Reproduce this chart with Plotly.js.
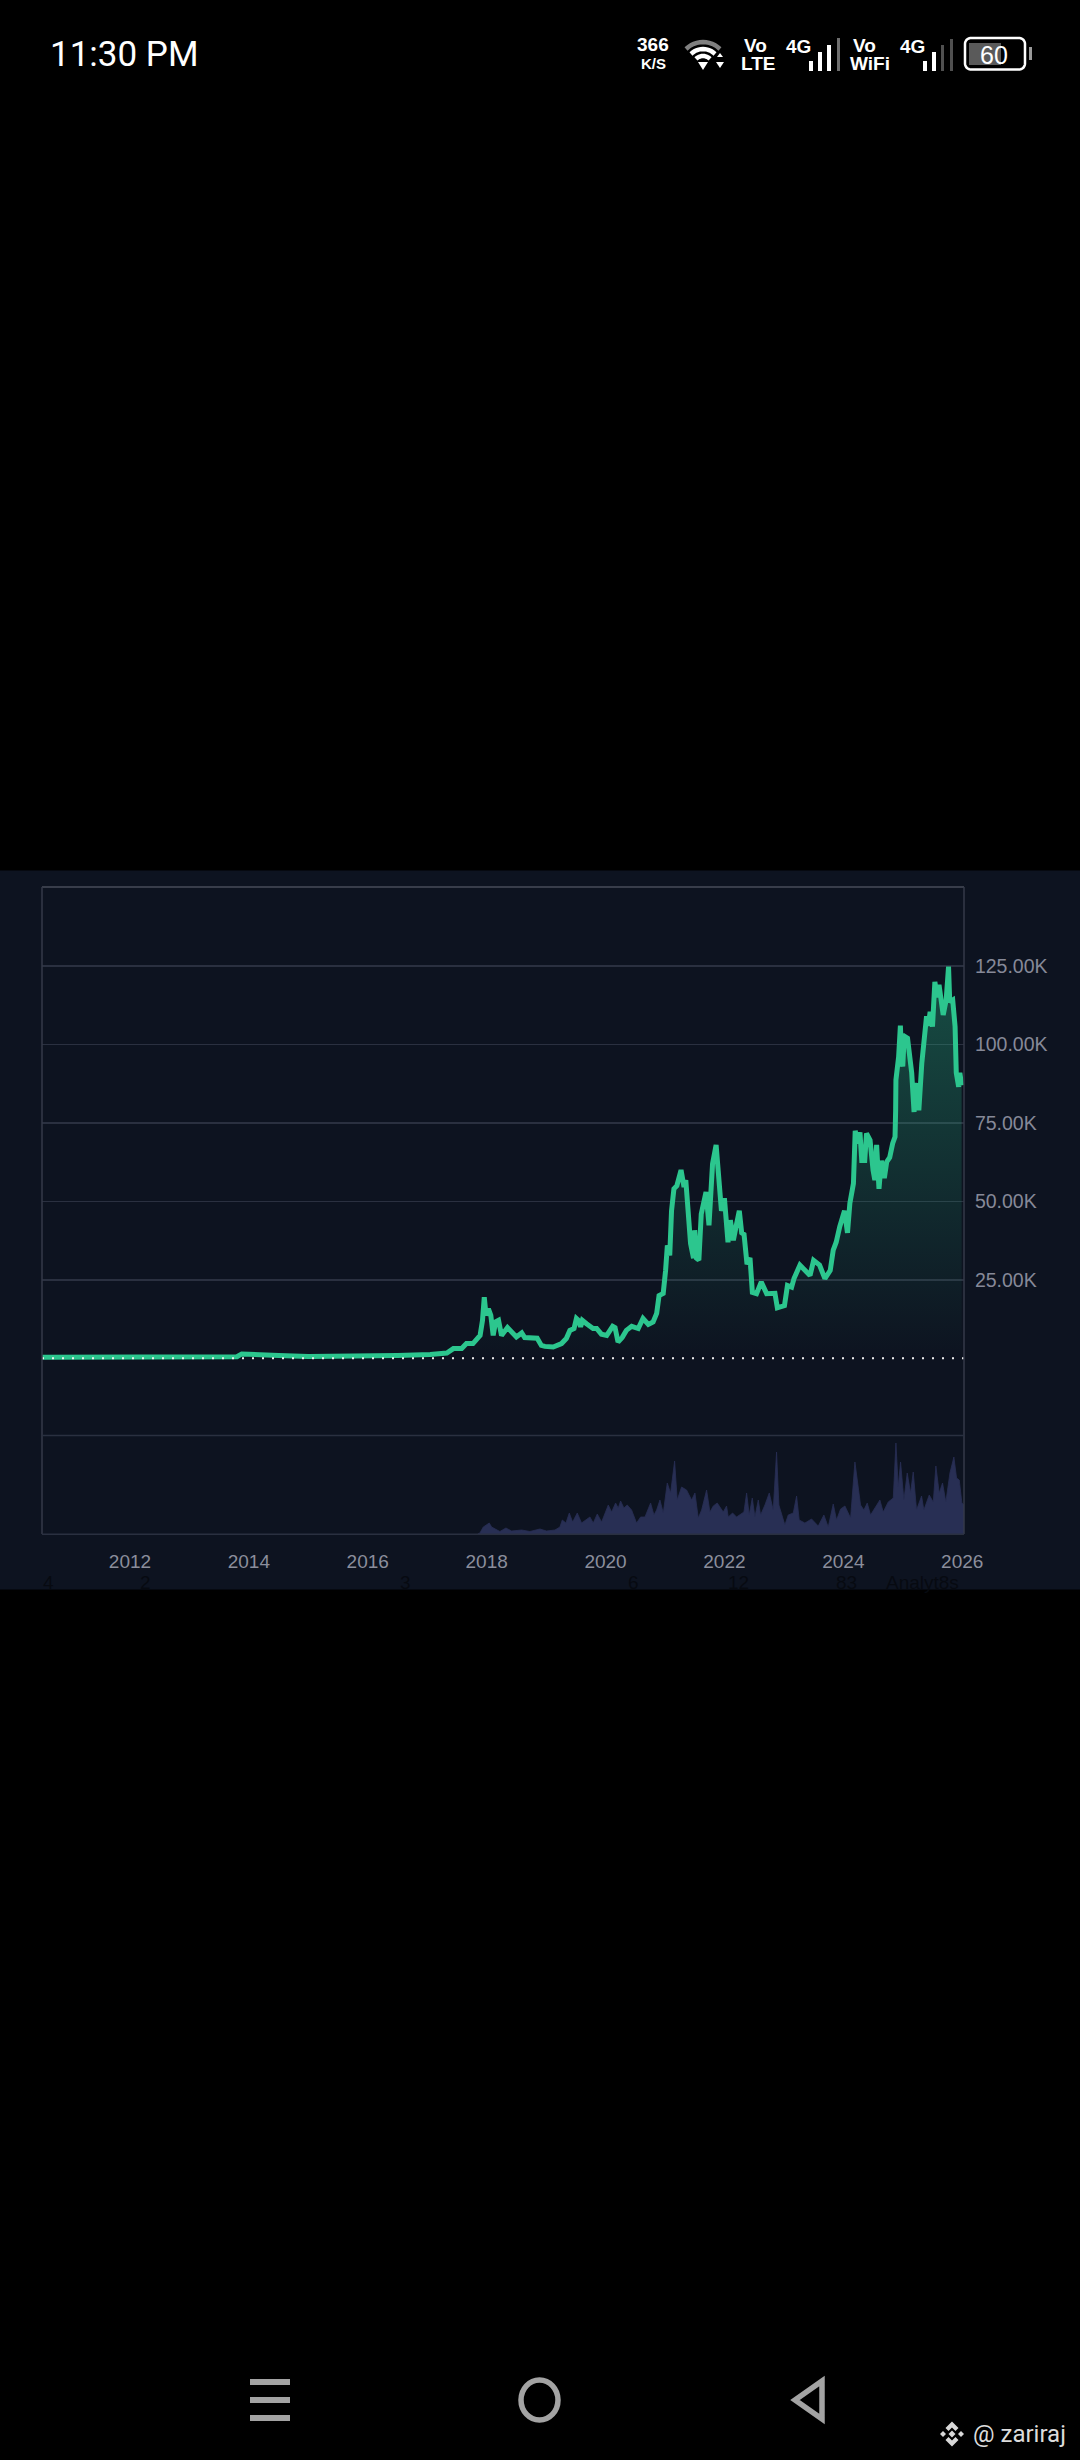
<!DOCTYPE html>
<html>
<head>
<meta charset="utf-8">
<script src="https://cdn.plot.ly/plotly-3.0.1.min.js"></script>
<style>html,body{margin:0;padding:0;background:#000}#chart{width:1080px;height:2460px}</style>
</head>
<body>
<div id="chart"></div>
<script>
// Price, thousands of USD
const priceYears = [2010.52,2011.0,2011.5,2012.0,2012.5,2013.0,2013.5,2013.8,2013.88,2013.95,2014.1,2014.5,2015.0,2015.5,2016.0,2016.5,2017.05,2017.33,2017.44,2017.58,2017.66,2017.77,2017.89,2017.93,2017.96,2017.99,2018.03,2018.07,2018.11,2018.15,2018.2,2018.25,2018.35,2018.5,2018.59,2018.64,2018.85,2018.92,2018.98,2019.12,2019.26,2019.34,2019.4,2019.47,2019.51,2019.55,2019.58,2019.61,2019.68,2019.79,2019.85,2019.93,2020.02,2020.12,2020.16,2020.21,2020.28,2020.35,2020.44,2020.55,2020.63,2020.72,2020.8,2020.86,2020.9,2020.97,2021.01,2021.04,2021.08,2021.11,2021.15,2021.2,2021.27,2021.32,2021.35,2021.39,2021.43,2021.48,2021.5,2021.53,2021.57,2021.61,2021.69,2021.74,2021.8,2021.86,2021.91,2021.95,2022.0,2022.06,2022.1,2022.15,2022.2,2022.25,2022.29,2022.33,2022.38,2022.43,2022.47,2022.54,2022.62,2022.71,2022.85,2022.89,2023.01,2023.06,2023.13,2023.17,2023.27,2023.35,2023.44,2023.5,2023.6,2023.69,2023.78,2023.83,2023.88,2023.94,2024.02,2024.07,2024.11,2024.17,2024.2,2024.24,2024.28,2024.31,2024.36,2024.39,2024.45,2024.5,2024.53,2024.56,2024.6,2024.64,2024.69,2024.73,2024.78,2024.83,2024.87,2024.88,2024.885,2024.93,2024.96,2024.98,2025.0,2025.02,2025.04,2025.08,2025.11,2025.15,2025.19,2025.21,2025.24,2025.27,2025.32,2025.36,2025.4,2025.43,2025.46,2025.5,2025.54,2025.58,2025.61,2025.68,2025.73,2025.77,2025.79,2025.84,2025.88,2025.9,2025.94,2025.96,2025.99];
const priceK = [0.3,0.3,0.3,0.3,0.3,0.3,0.4,0.5,1.4,1.3,1.1,0.9,0.6,0.6,0.7,0.9,1.2,1.7,3.1,3.1,4.7,4.7,7.3,12.1,19.5,13.7,15.8,13.7,7.3,11.6,12.1,7.3,9.8,6.8,8.1,6.6,6.4,4.1,3.8,3.6,4.7,6.3,8.9,9.5,12.7,12,10,12.1,11,9.5,9.5,7.7,7.3,10.2,9.8,5.2,6.6,8.9,10.2,9.5,12.7,10.8,11.6,14.3,20,20.7,28,36,32.8,47,54,55,60,54.6,56.8,47,36.6,31.9,40.8,31.9,31.3,46,53,42.4,62,68,57.8,47,51,37,44,37.6,42.4,47,40,39.5,30,32,21,20.6,24.3,20.6,20.7,16.1,16.8,23.2,22.7,25.4,29.7,28,26.4,31.2,29.7,25.4,28,34.5,37,42,47,40,49.4,55.7,72.5,68.5,72,63,63,71.7,69.5,60,56.8,68,54,63,57.4,62.6,64,68.5,70.6,79,88.7,96,106,95,93,101,102.5,102,96,91,78.5,86,87.6,79,94,102.5,109,106,110.4,105.7,120,115,119,109.4,114.2,124.8,113.6,114.2,105.7,91,86.5,91,87];

// Volume, arbitrary units
const volumeYears = [2017.85,2017.887,2017.943,2018.044,2018.083,2018.139,2018.223,2018.324,2018.42,2018.588,2018.728,2018.896,2019.008,2019.149,2019.233,2019.272,2019.334,2019.39,2019.446,2019.524,2019.597,2019.737,2019.793,2019.861,2019.934,2020.046,2020.102,2020.169,2020.214,2020.253,2020.309,2020.365,2020.438,2020.522,2020.59,2020.663,2020.758,2020.814,2020.859,2020.915,2020.971,2021.038,2021.094,2021.162,2021.206,2021.279,2021.363,2021.448,2021.504,2021.56,2021.616,2021.7,2021.756,2021.812,2021.879,2021.98,2022.036,2022.064,2022.137,2022.204,2022.328,2022.373,2022.417,2022.468,2022.513,2022.569,2022.608,2022.681,2022.754,2022.821,2022.877,2022.916,2022.978,2023.017,2023.073,2023.158,2023.214,2023.258,2023.354,2023.466,2023.578,2023.673,2023.746,2023.83,2023.886,2023.954,2024.027,2024.122,2024.195,2024.234,2024.29,2024.346,2024.402,2024.458,2024.531,2024.615,2024.671,2024.755,2024.84,2024.885,2024.924,2024.963,2025.019,2025.075,2025.131,2025.176,2025.232,2025.316,2025.355,2025.445,2025.513,2025.557,2025.613,2025.669,2025.725,2025.793,2025.86,2025.905,2025.95,2025.995,2026.03];
const volumeB = [0,1,7,11,7,5,2.5,6,3,4,2.5,5,3,4,7,14,11,21,12,21,11,17,11,20,12,29,22,31,26,33,26,29,24,11,17,17,31,19,24,34,21,51,41,73,34,47,44,34,41,16,24,44,22,28,31,22,28,17,21,17,22,41,19,36,17,34,19,29,41,24,82,29,16,9,19,21,38,14,11,15,8,19,7,30,14,25,28,16,72,52,29,24,31,19,26,34,22,32,36,91,47,72,34,61,41,62,24,38,24,39,32,68,41,51,32,61,77,56,54,31,29];

// Tick labels
const yearTicks = [2012,2014,2016,2018,2020,2022,2024,2026];
const priceTicks = [25,50,75,100,125];
const priceTickLabels = ['25.00K','50.00K','75.00K','100.00K','125.00K'];

// Faint labels showing through at the bottom of the panel
const ghostLabels = ['4','2','3','6','12','83','Analyt8s'];
const ghostPixels = [48,145,405,633,738,846,922];

const X = p => p/1080, Y = p => 1 - p/2460;
const path = pts => 'M' + pts.map(q => X(q[0]).toFixed(5)+' '+Y(q[1]).toFixed(5)).join('L');
const grey = '#a3a3a3', white = '#ffffff';
const rect = (x0,y0,x1,y1,fill,layer) => ({type:'rect',xref:'paper',yref:'paper',x0:X(x0),x1:X(x1),y0:Y(y0),y1:Y(y1),fillcolor:fill,line:{width:0},layer:layer||'above'});
const seg = (x0,y0,x1,y1,color,w) => ({type:'line',xref:'paper',yref:'paper',x0:X(x0),x1:X(x1),y0:Y(y0),y1:Y(y1),line:{color:color,width:w||1.5},layer:'above'});
const poly = (pts,fill,line,w,close) => ({type:'path',xref:'paper',yref:'paper',path:path(pts)+(close?'Z':''),fillcolor:fill||'rgba(0,0,0,0)',line:{color:line||'rgba(0,0,0,0)',width:w||0},layer:'above'});
const txt = (s,x,y,size,color,o) => Object.assign({text:s,xref:'paper',yref:'paper',x:X(x),y:Y(y),xanchor:'center',yanchor:'middle',showarrow:false,borderpad:0,font:{family:'Liberation Sans, Arial, sans-serif',size:size,color:color}},o||{});

function arc(cx,cy,r,a0,a1){const out=[];for(let a=a0;a<=a1+1e-6;a+=(a1-a0)/12){out.push([cx+r*Math.cos(a*Math.PI/180),cy+r*Math.sin(a*Math.PI/180)]);}return out;}
const roundBox = (x0,y0,x1,y1,r) => [].concat(arc(x1-r,y0+r,r,-90,0),arc(x1-r,y1-r,r,0,90),arc(x0+r,y1-r,r,90,180),arc(x0+r,y0+r,r,180,270));

const shapes = [
  rect(0,870.5,1080,1589.5,'#0d1320','below'),
  // frame
  seg(42,887,964,887,'#474c58',1.5), seg(42,887,42,1534,'#343a48',1.5), seg(964,887,964,1534,'#343a48',1.5),
  seg(42,1534.3,964,1534.3,'#2a3040',1.5), seg(42,1435.5,964,1435.5,'#2a3040',1.5),
  // signal bars
  rect(809,61,813,71,white), rect(818,52,822,71,white), rect(827,45,831,71,white), rect(837,38,840,71,'#6e6e6e'),
  rect(923,61,927,71,white), rect(932,52,936,71,white), rect(941,45,944,71,'#505050'), rect(950,39,953,71,'#505050'),
  // battery
  rect(969,43,1001,65,'#5a5a5a'),
  poly(roundBox(965,38,1025,69.5,6),null,white,2.5,true),
  rect(1029,47,1032,60,'#9a9a9a'),
  // wifi
  poly(arc(703,66,24,-135,-45),null,'#808080',4.5),
  poly(arc(703,66,17,-135,-45),null,white,4.5),
  poly(arc(703,66,10,-135,-45),null,white,4.5),
  poly([[698,62],[708,62],[703,70]],white,null,0,true),
  poly([[717,57],[723,57],[720,53]],white,null,0,true),
  poly([[716,62],[724,62],[720,68]],white,null,0,true),
  // navigation
  rect(250,2379,290,2385,grey), rect(250,2397,290,2403,grey), rect(250,2415,290,2421,grey),
  {type:'circle',xref:'paper',yref:'paper',x0:X(521),x1:X(558),y0:Y(2380),y1:Y(2420),line:{color:grey,width:5.5},fillcolor:'rgba(0,0,0,0)',layer:'above'},
  poly([[822,2381],[795,2400],[822,2419]],null,grey,5.5,true),
  // logo
  poly([[952,2421.5],[958.5,2428],[955.5,2431],[952,2427.5],[948.5,2431],[945.5,2428]],'#d8d8d8',null,0,true),
  poly([[952,2446.5],[958.5,2440],[955.5,2437],[952,2440.5],[948.5,2437],[945.5,2440]],'#d8d8d8',null,0,true),
  poly([[952,2430.5],[955.5,2434],[952,2437.5],[948.5,2434]],'#d8d8d8',null,0,true),
  poly([[943,2431],[946,2434],[943,2437],[940,2434]],'#d8d8d8',null,0,true),
  poly([[961,2431],[964,2434],[961,2437],[958,2434]],'#d8d8d8',null,0,true)
];

const narrow = 'Liberation Sans Narrow, Liberation Sans, Arial, sans-serif';
const annotations = [
  txt('11:30 PM',124,55,36,white,{font:{family:'Roboto, Arial, sans-serif',size:35,color:white}}),
  txt('<b>366</b>',653,44,18,white,{font:{family:narrow,size:19,color:white}}),
  txt('<b>K/S</b>',653,63,14,white,{font:{family:narrow,size:15,color:white}}),
  txt('<b>Vo</b>',755,45,18,white,{font:{family:narrow,size:19,color:white}}),
  txt('<b>LTE</b>',758,63,18,white,{font:{family:narrow,size:19,color:white}}),
  txt('<b>4G</b>',798,47,18,white,{font:{family:narrow,size:19,color:white}}),
  txt('<b>Vo</b>',864,45,18,white,{font:{family:narrow,size:19,color:white}}),
  txt('<b>WiFi</b>',870,63,18,white,{font:{family:narrow,size:19,color:white}}),
  txt('<b>4G</b>',912,47,18,white,{font:{family:narrow,size:19,color:white}}),
  txt('60',994,55,25,white,{font:{family:narrow,size:25,color:white}}),
  txt('@ zariraj',1019,2434,24,'#dcdcdc',{font:{family:'Roboto, Arial, sans-serif',size:24,color:'#dcdcdc'}})
].concat(ghostLabels.map((s,i)=>txt(s,ghostPixels[i],1582,19,'#070a11')));

const traces = [
  {x:volumeYears,y:volumeB,xaxis:'x',yaxis:'y2',type:'scatter',mode:'lines',line:{color:'#282f54',width:0.8},fill:'tozeroy',fillcolor:'#282f54',hoverinfo:'skip'},
  {x:priceYears,y:priceK,xaxis:'x',yaxis:'y',type:'scatter',mode:'lines',line:{color:'#2cc68e',width:5,shape:'linear'},fill:'tozeroy',
   fillgradient:{type:'vertical',colorscale:[[0,'rgba(44,198,142,0.0)'],[1,'rgba(44,198,142,0.33)']]},hoverinfo:'skip'},
  {x:[priceYears[0],2026.03],y:[0,0],xaxis:'x',yaxis:'y',type:'scatter',mode:'lines',line:{color:'#f0f0f0',width:2,dash:'2px,8px'},hoverinfo:'skip'}
];

const layout = {
  width:1080,height:2460,margin:{l:0,r:0,t:0,b:0,pad:0},autosize:false,showlegend:false,
  paper_bgcolor:'#000000',plot_bgcolor:'rgba(0,0,0,0)',
  xaxis:{domain:[42/1080,964/1080],range:[2010.52,2026.03],anchor:'y2',type:'linear',showgrid:false,zeroline:false,showline:false,
    tickmode:'array',tickvals:yearTicks,ticktext:yearTicks.map(String),ticks:'outside',ticklen:10,tickcolor:'rgba(0,0,0,0)',
    tickfont:{family:'Liberation Sans, Arial, sans-serif',size:19,color:'#8b8e9c'}},
  yaxis:{domain:[Y(1435.5),Y(887)],range:[-24.6,150.2],anchor:'x',side:'right',showgrid:true,gridcolor:'#2a3040',gridwidth:1.5,zeroline:false,showline:false,
    tickmode:'array',tickvals:priceTicks,ticktext:priceTickLabels,ticks:'outside',ticklen:6,tickcolor:'rgba(0,0,0,0)',
    tickfont:{family:'Liberation Sans, Arial, sans-serif',size:19.5,color:'#868998'}},
  yaxis2:{domain:[Y(1534),Y(1435.5)],range:[0,98.5],anchor:'x',showgrid:false,zeroline:false,showline:false,showticklabels:false,ticks:''},
  shapes:shapes,annotations:annotations
};
Plotly.newPlot('chart',traces,layout,{displayModeBar:false,staticPlot:true});
</script>
</body>
</html>
